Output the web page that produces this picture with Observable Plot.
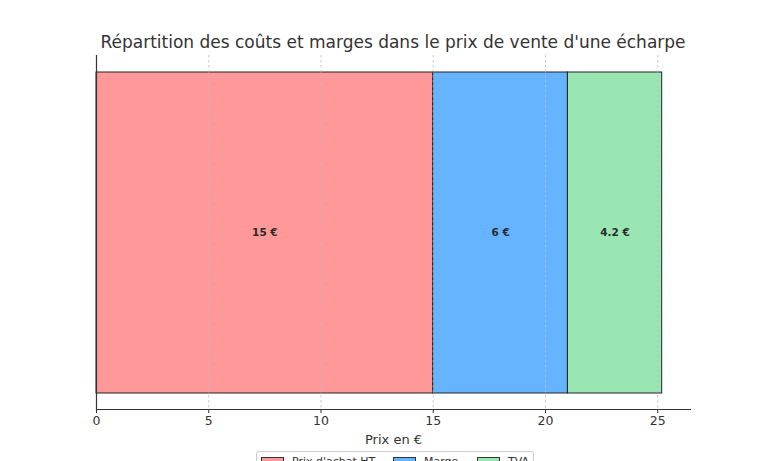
<!DOCTYPE html>
<html><head><meta charset="utf-8">
<script src="https://cdn.jsdelivr.net/npm/d3@7"></script>
<script src="https://cdn.jsdelivr.net/npm/@observablehq/plot@0.6"></script>
<style>
body{margin:0;width:768px;height:461px;overflow:hidden;background:#fff;font-family:"DejaVu Sans",sans-serif;position:relative}
#title{position:absolute;left:96px;width:594px;top:31px;text-align:center;font-size:17px;color:#333;line-height:22px;white-space:nowrap}
#chart{position:absolute;left:0;top:55px}
#legend{position:absolute;left:256px;top:451px;width:276px;height:30px;border:1px solid #ccc;border-radius:3px;background:#fff;font-size:11px;color:#333}
.item{position:absolute;top:3px;display:flex;align-items:center}
.sw{width:21px;height:8px;border:1px solid #333;margin-right:8px}
</style></head>
<body>
<div id="title">Répartition des coûts et marges dans le prix de vente d'une écharpe</div>
<div id="chart"></div>
<div id="legend"></div>
<script>
const categories = ["Prix d'achat HT", "Marge", "TVA"];
const values = [15, 6, 4.2];
const colors = ["#ff9999", "#66b3ff", "#99e6b3"];
const labels = ["15 €", "6 €", "4.2 €"];
const xTicks = [0, 5, 10, 15, 20, 25];
const xLabel = "Prix en €";

const total = d3.sum(values);
const data = categories.map((c, i) => ({cat: c, value: values[i], label: labels[i], row: "écharpe"}));

const plot = Plot.plot({
  width: 768, height: 395,
  marginLeft: 96, marginRight: 78, marginTop: 0, marginBottom: 41,
  style: {fontFamily: "DejaVu Sans, sans-serif", fontSize: "12.5px", color: "#333", background: "white"},
  x: {domain: [0, total * 1.05]},
  y: {domain: ["écharpe"], padding: 0.0476, axis: null},
  color: {domain: categories, range: colors},
  marks: [
    Plot.barX(data, Plot.stackX({x: "value", y: "row", fill: "cat", stroke: "#222", strokeWidth: 1, order: null})),
    Plot.ruleX(xTicks, {stroke: "#bbbbbb", strokeDasharray: "2.5,2.5", strokeWidth: 0.8}),
    Plot.text(data, Plot.stackX({x: "value", y: "row", text: "label", fontWeight: "bold", fontSize: 10.5, fill: "#2a2a2a", order: null})),
    Plot.axisX({ticks: xTicks, tickSize: 4, tickPadding: 3, fontSize: 12.5, label: null}),
    Plot.axisX({ticks: [], label: xLabel, labelAnchor: "center", labelArrow: "none", labelOffset: 34, fontSize: 13}),
    Plot.frame({anchor: "bottom", stroke: "#333", strokeWidth: 1}),
    Plot.frame({anchor: "left", stroke: "#333", strokeWidth: 1.2})
  ]
});
document.getElementById("chart").appendChild(plot);

const legend = document.getElementById("legend");
const offsets = [4, 136, 220];
categories.forEach((c, i) => {
  const it = document.createElement("div");
  it.className = "item";
  it.style.left = offsets[i] + "px";
  const sw = document.createElement("div");
  sw.className = "sw";
  sw.style.background = colors[i];
  const t = document.createElement("span");
  t.textContent = c;
  it.appendChild(sw); it.appendChild(t);
  legend.appendChild(it);
});
</script>
</body></html>
